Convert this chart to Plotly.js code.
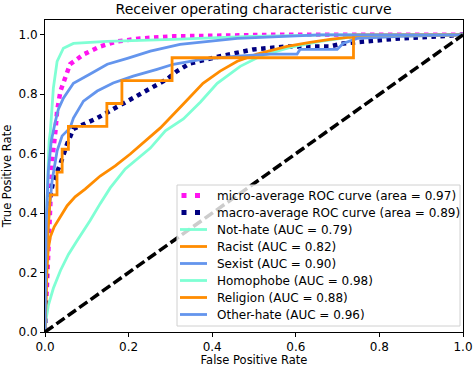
<!DOCTYPE html>
<html>
<head>
<meta charset="utf-8">
<script src="https://cdn.plot.ly/plotly-3.0.1.min.js"></script>
<style>html,body{margin:0;padding:0;background:#fff;}#chart{width:474px;height:367px;}</style>
</head>
<body>
<div id="chart"></div>
<script>
// ---- data ----
const seriesNames = ["micro-average ROC curve (area = 0.97)", "macro-average ROC curve (area = 0.89)",
  "Not-hate (AUC = 0.79)", "Racist (AUC = 0.82)", "Sexist (AUC = 0.90)",
  "Homophobe (AUC = 0.98)", "Religion (AUC = 0.88)", "Other-hate (AUC = 0.96)"];

const microFpr = [0, 0.003, 0.008, 0.013, 0.017, 0.025, 0.029, 0.037, 0.060, 0.092, 0.132, 0.173, 0.228, 0.307, 0.539, 1];
const microTpr = [0, 0.106, 0.274, 0.442, 0.576, 0.677, 0.744, 0.811, 0.901, 0.934, 0.961, 0.978, 0.988, 0.995, 1.0, 1];

const macroFpr = [0, 0.001, 0.003, 0.005, 0.009, 0.020, 0.037, 0.053, 0.068, 0.125, 0.163, 0.211, 0.252, 0.292, 0.316, 0.347, 0.419, 0.498, 0.579, 0.682, 0.713, 0.849, 1];
const macroTpr = [0, 0.106, 0.240, 0.354, 0.432, 0.509, 0.566, 0.633, 0.683, 0.720, 0.750, 0.787, 0.821, 0.851, 0.878, 0.904, 0.928, 0.951, 0.961, 0.961, 0.971, 0.988, 1];

const notHateFpr = [0, 0.003, 0.008, 0.020, 0.037, 0.056, 0.077, 0.108, 0.132, 0.156, 0.192, 0.252, 0.288, 0.331, 0.372, 0.412, 0.467, 0.515, 0.586, 0.658, 0.730, 0.801, 0.897, 1];
const notHateTpr = [0, 0.046, 0.090, 0.147, 0.207, 0.261, 0.308, 0.375, 0.432, 0.485, 0.549, 0.619, 0.677, 0.717, 0.774, 0.837, 0.894, 0.928, 0.958, 0.978, 0.992, 0.998, 1.0, 1];

const racistFpr = [0, 0.001, 0.003, 0.005, 0.008, 0.013, 0.022, 0.037, 0.053, 0.072, 0.096, 0.132, 0.168, 0.204, 0.240, 0.276, 0.331, 0.378, 0.419, 0.460, 0.507, 0.579, 0.634, 0.682, 0.730, 0.801, 0.897, 1];
const racistTpr = [0, 0.056, 0.140, 0.224, 0.281, 0.321, 0.354, 0.388, 0.425, 0.455, 0.481, 0.525, 0.559, 0.599, 0.643, 0.687, 0.767, 0.837, 0.878, 0.911, 0.935, 0.961, 0.975, 0.985, 0.992, 0.998, 1.0, 1];

const sexistFpr = [0, 0.001, 0.003, 0.008, 0.017, 0.029, 0.041, 0.060, 0.068, 0.092, 0.125, 0.163, 0.211, 0.268, 0.307, 0.378, 0.460, 0.539, 0.603, 0.610, 0.699, 0.713, 0.747, 0.849, 1];
const sexistTpr = [0, 0.106, 0.240, 0.375, 0.509, 0.610, 0.660, 0.687, 0.720, 0.777, 0.811, 0.838, 0.861, 0.884, 0.901, 0.918, 0.928, 0.935, 0.935, 0.951, 0.951, 0.971, 0.988, 0.995, 1];

const homophobeFpr = [0, 0.001, 0.003, 0.005, 0.008, 0.010, 0.013, 0.020, 0.029, 0.044, 0.068, 0.149, 0.307, 0.491, 0.682, 1];
const homophobeTpr = [0, 0.106, 0.274, 0.442, 0.576, 0.643, 0.677, 0.821, 0.911, 0.955, 0.971, 0.978, 0.985, 0.995, 1.0, 1];

const religionFpr = [0, 0.003, 0.006, 0.0127, 0.0287, 0.0287, 0.041, 0.041, 0.056, 0.056, 0.148, 0.148, 0.184, 0.184, 0.304, 0.304, 0.738, 0.738, 1];
const religionTpr = [0, 0.154, 0.308, 0.4615, 0.4615, 0.538, 0.538, 0.615, 0.615, 0.692, 0.692, 0.769, 0.769, 0.846, 0.846, 0.923, 0.923, 1.0, 1];

const otherHateFpr = [0, 0.001, 0.003, 0.008, 0.015, 0.025, 0.032, 0.044, 0.068, 0.108, 0.149, 0.197, 0.252, 0.323, 0.460, 0.658, 1];
const otherHateTpr = [0, 0.173, 0.375, 0.542, 0.643, 0.710, 0.750, 0.787, 0.837, 0.868, 0.901, 0.921, 0.945, 0.968, 0.988, 1.0, 1];

const chanceLine = [0, 1];
const axisTicks = [0, 0.2, 0.4, 0.6, 0.8, 1.0];
const tickText = ["0.0", "0.2", "0.4", "0.6", "0.8", "1.0"];

// ---- styles ----
const C_MICRO = "#ff14f0", C_MACRO = "#000080", C_AQUA = "#7fffd4", C_ORANGE = "#ff8c00", C_BLUE = "#6495ed";
const LW = 2.8;
const DOT = {width: 4.5, dash: "4.5px,4.5px"};

const styles = [
  {color: C_MICRO, width: DOT.width, dash: DOT.dash},
  {color: C_MACRO, width: DOT.width, dash: DOT.dash},
  {color: C_AQUA, width: LW},
  {color: C_ORANGE, width: LW},
  {color: C_BLUE, width: LW},
  {color: C_AQUA, width: LW},
  {color: C_ORANGE, width: LW},
  {color: C_BLUE, width: LW}
];
const xs = [microFpr, macroFpr, notHateFpr, racistFpr, sexistFpr, homophobeFpr, religionFpr, otherHateFpr];
const ys = [microTpr, macroTpr, notHateTpr, racistTpr, sexistTpr, homophobeTpr, religionTpr, otherHateTpr];

const traces = xs.map((x, i) => ({type: "scatter", mode: "lines", x: x, y: ys[i], name: seriesNames[i],
  line: styles[i], showlegend: false, hoverinfo: "skip"}));
traces.push({type: "scatter", mode: "lines", x: chanceLine, y: chanceLine, showlegend: false, hoverinfo: "skip",
  line: {color: "#000", width: 3.5, dash: "10px,4px"}});

// ---- matplotlib-style legend (box, samples, labels) in paper coordinates ----
const M = {l: 45, r: 11, t: 20, b: 35}, W = 474, H = 367;
const pw = W - M.l - M.r, ph = H - M.t - M.b;
const px2x = p => (p - M.l) / pw;
const py2y = p => (H - M.b - p) / ph;
const shapes = [{type: "rect", xref: "paper", yref: "paper", layer: "above",
  x0: px2x(177), x1: px2x(460), y0: py2y(326), y1: py2y(185),
  fillcolor: "rgba(255,255,255,0.8)", line: {color: "#d0d0d0", width: 1}}];
const annotations = [];
const FONT = "DejaVu Sans, sans-serif";
seriesNames.forEach((name, i) => {
  const rowY = py2y(195.5 + i * 17);
  const dotted = i < 2;
  shapes.push({type: "line", xref: "paper", yref: "paper", layer: "above",
    x0: px2x(dotted ? 181.5 : 180), x1: px2x(dotted ? 200 : 207), y0: rowY, y1: rowY,
    line: dotted ? {color: styles[i].color, width: 5, dash: "5px,8.5px"} : {color: styles[i].color, width: LW}});
  annotations.push({xref: "paper", yref: "paper", x: px2x(215), y: rowY, xanchor: "left", yanchor: "middle",
    text: name, showarrow: false, font: {family: FONT, size: 12, color: "#000"}});
});

const axisCommon = {
  showgrid: false, zeroline: false, showline: true, mirror: true, linecolor: "#000", linewidth: 1,
  ticks: "outside", ticklen: 4, tickcolor: "#000", tickwidth: 1,
  tickmode: "array", tickvals: axisTicks, ticktext: tickText,
  tickfont: {family: FONT, size: 12, color: "#000"}
};

const layout = {
  width: W, height: H,
  margin: M,
  paper_bgcolor: "#fff", plot_bgcolor: "#fff",
  font: {family: FONT, color: "#000"},
  title: {text: "Receiver operating characteristic curve", font: {family: FONT, size: 14, color: "#000"},
          x: 0.535, xanchor: "center", y: 0.975, yref: "container", yanchor: "middle"},
  xaxis: Object.assign({}, axisCommon, {range: [0, 1],
    title: {text: "False Positive Rate", font: {family: FONT, size: 11.5, color: "#000"}, standoff: 4}}),
  yaxis: Object.assign({}, axisCommon, {range: [0, 1.05],
    title: {text: "True Positive Rate", font: {family: FONT, size: 11.5, color: "#000"}, standoff: 4}}),
  showlegend: false,
  shapes: shapes,
  annotations: annotations
};

Plotly.newPlot("chart", traces, layout, {displayModeBar: false, staticPlot: true});
</script>
</body>
</html>
